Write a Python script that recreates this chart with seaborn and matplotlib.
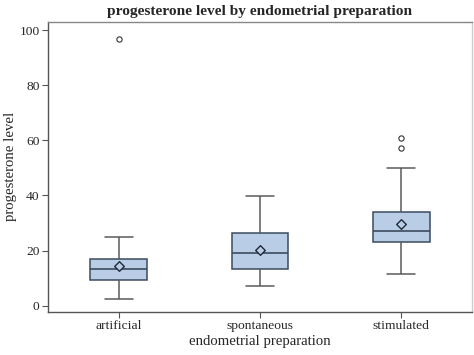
import numpy as np
import pandas as pd
import matplotlib
matplotlib.use("Agg")
import matplotlib.pyplot as plt
import seaborn as sns

categories = ["artificial", "spontaneous", "stimulated"]
whisker_low = [2.5, 7.1, 11.4]
q1 = [9.3, 13.2, 23.0]
median = [13.3, 19.2, 27.1]
q3 = [16.9, 26.3, 33.9]
whisker_high = [24.9, 39.9, 49.8]
means = [14.4, 20.3, 29.7]
outliers = [[96.6], [], [57.1, 60.9]]
y_ticks = [0, 20, 40, 60, 80, 100]

# Build rows reproducing each five-number summary (block-repeated quartile values)
rows = []
for i, c in enumerate(categories):
    vals = [whisker_low[i]] + [q1[i]] * 50 + [median[i]] * 50 + [q3[i]] * 50 + [whisker_high[i]] + outliers[i]
    rows += [(c, v) for v in vals]
df = pd.DataFrame(rows, columns=["prep", "level"])
mean_df = pd.DataFrame({"prep": categories, "level": means})

sns.set_style("white")
plt.rcParams["font.family"] = ["Liberation Serif", "DejaVu Serif"]

fig = plt.figure(figsize=(4.74, 3.55), dpi=100)
ax = fig.add_axes([0.1013, 0.1225, 0.8945, 0.8155])

edge = "#3d4b5e"
wcol = "#5a5a5a"
sns.boxplot(data=df, x="prep", y="level", order=categories, width=0.4, ax=ax,
            color="#b9cde6", linewidth=1.1, whis=1.5,
            boxprops=dict(facecolor="#b9cde6", edgecolor=edge),
            medianprops=dict(color=edge, linewidth=1.2),
            whiskerprops=dict(color=wcol, linewidth=1.1),
            capprops=dict(color=wcol, linewidth=1.1),
            flierprops=dict(marker="o", markersize=3.8, markerfacecolor="white",
                            markeredgecolor="#333333", markeredgewidth=0.8))
sns.scatterplot(data=mean_df, x="prep", y="level", marker="D", s=24,
                facecolor="#b9cde6", edgecolor="#1f2a38", linewidth=1.0, ax=ax, zorder=5)

ax.set_xlim(-0.5, 2.5)
ax.set_ylim(-2.1, 102.9)
ax.set_yticks(y_ticks)
ax.set_yticklabels([str(t) for t in y_ticks])
ax.tick_params(axis="both", direction="out", length=4, width=0.8, color="#555555",
               labelsize=9.7, pad=2, left=True, bottom=True)
for side in ["left", "bottom", "top", "right"]:
    ax.spines[side].set_visible(True)
    ax.spines[side].set_linewidth(1.0)
ax.spines["left"].set_color("#555555")
ax.spines["bottom"].set_color("#555555")
ax.spines["top"].set_color("#888888")
ax.spines["right"].set_color("#cccccc")

ax.set_xlabel("endometrial preparation", fontsize=10.6, labelpad=2)
ax.set_ylabel("progesterone level", fontsize=10.6, labelpad=2)
ax.set_title("progesterone level by endometrial preparation", fontsize=11.1, fontweight="bold", pad=5)

fig.savefig("out.png", dpi=100)
